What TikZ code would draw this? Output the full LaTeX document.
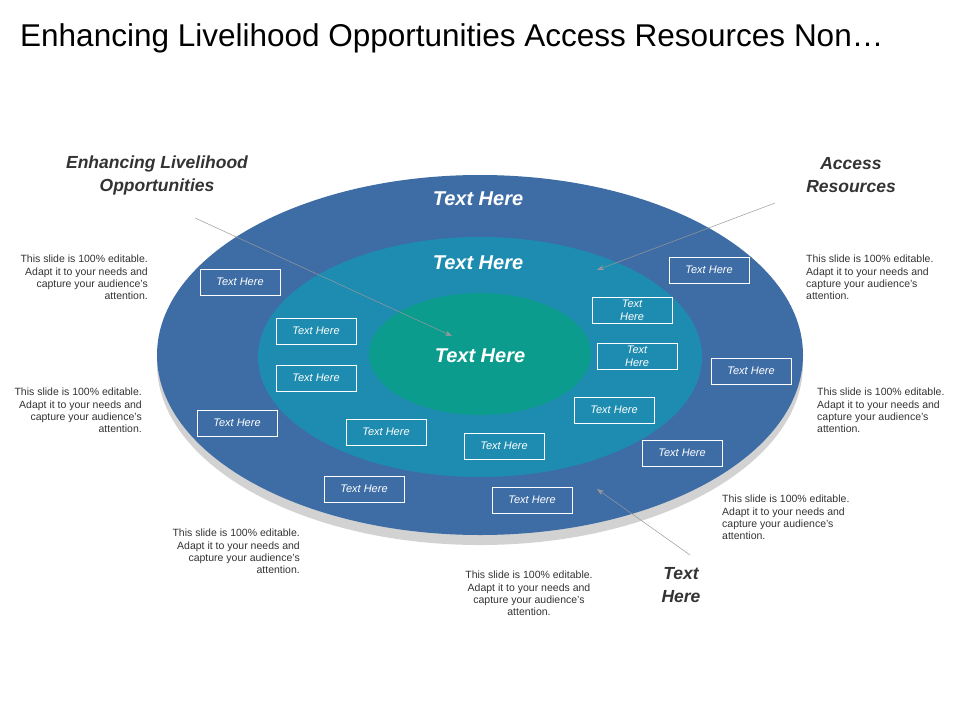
\documentclass[tikz,border=0pt]{standalone}
\usepackage{fontspec}
\setmainfont{Liberation Sans}
\usetikzlibrary{arrows.meta}
\definecolor{outerc}{HTML}{3E6DA6}
\definecolor{midc}{HTML}{1D8CB0}
\definecolor{innc}{HTML}{0C9C8E}
\definecolor{labc}{HTML}{333333}
\tikzset{
 tbox/.style={draw=white,line width=0.8pt,minimum width=80pt,minimum height=26pt,inner sep=1pt,font=\fontsize{11}{13}\selectfont\itshape,text=white,align=center},
 ttl/.style={font=\fontsize{20}{22}\selectfont\bfseries\itshape,text=white},
 lab/.style={font=\fontsize{17.5}{23}\selectfont\bfseries\itshape,text=labc,align=center},
 para/.style={font=\fontsize{10.5}{12.3}\selectfont,text=labc,inner sep=0pt},
 arr/.style={draw=gray!80,line width=0.5pt,-{Stealth[length=7pt,width=5pt]}}
}
\begin{document}
\begin{tikzpicture}[x=1pt,y=-1pt]
\useasboundingbox (0,0) rectangle (960,720);
\node[anchor=west,font=\fontsize{31.5}{34}\selectfont,inner sep=0pt] (title) at (20,38) {Enhancing Livelihood Opportunities Access Resources Non\ldots};
\fill[gray!35] (480,364) ellipse [x radius=323, y radius=181];
\fill[outerc] (480,355) ellipse [x radius=323, y radius=180];
\fill[midc] (480,357) ellipse [x radius=222, y radius=120];
\fill[innc] (480,354) ellipse [x radius=111, y radius=61];
\node[ttl] (t1) at (478,199) {Text Here};
\node[ttl] (t2) at (478,263) {Text Here};
\node[ttl] (t3) at (480,356) {Text Here};
\node[tbox] (b1) at (240,282) {Text Here};
\node[tbox] (b2) at (316,331) {Text Here};
\node[tbox] (b3) at (316,378) {Text Here};
\node[tbox] (b4) at (237,423) {Text Here};
\node[tbox] (b5) at (386,432) {Text Here};
\node[tbox] (b6) at (504,446) {Text Here};
\node[tbox] (b7) at (364,489) {Text Here};
\node[tbox] (b8) at (532,500) {Text Here};
\node[tbox] (b9) at (614,410) {Text Here};
\node[tbox] (b10) at (682,453) {Text Here};
\node[tbox] (b11) at (751,371) {Text Here};
\node[tbox] (b12) at (709,270) {Text Here};
\node[tbox] (b13) at (632,310) {Text\\Here};
\node[tbox] (b14) at (637,356) {Text\\Here};
\node[lab] (l1) at (157,175) {Enhancing Livelihood\\Opportunities};
\node[lab] (l2) at (851,175) {Access\\Resources};
\node[lab] (l3) at (681,585) {Text\\Here};
\coordinate (a1) at (452,336);
\coordinate (a2) at (597,270);
\coordinate (a3) at (597,489);
\draw[arr] (195,218) -- (a1);
\draw[arr] (775,203) -- (a2);
\draw[arr] (690,555) -- (a3);
\node[para,align=right,anchor=north east] (p1) at (148,255) {This slide is 100\% editable.\\Adapt it to your needs and\\capture your audience's\\attention.};
\node[para,align=right,anchor=north east] (p2) at (142,388) {This slide is 100\% editable.\\Adapt it to your needs and\\capture your audience's\\attention.};
\node[para,align=right,anchor=north east] (p3) at (300,529) {This slide is 100\% editable.\\Adapt it to your needs and\\capture your audience's\\attention.};
\node[para,align=center,anchor=north] (p4) at (529,571) {This slide is 100\% editable.\\Adapt it to your needs and\\capture your audience's\\attention.};
\node[para,align=left,anchor=north west] (p5) at (806,255) {This slide is 100\% editable.\\Adapt it to your needs and\\capture your audience's\\attention.};
\node[para,align=left,anchor=north west] (p6) at (817,388) {This slide is 100\% editable.\\Adapt it to your needs and\\capture your audience's\\attention.};
\node[para,align=left,anchor=north west] (p7) at (722,495) {This slide is 100\% editable.\\Adapt it to your needs and\\capture your audience's\\attention.};
\end{tikzpicture}
\end{document}
